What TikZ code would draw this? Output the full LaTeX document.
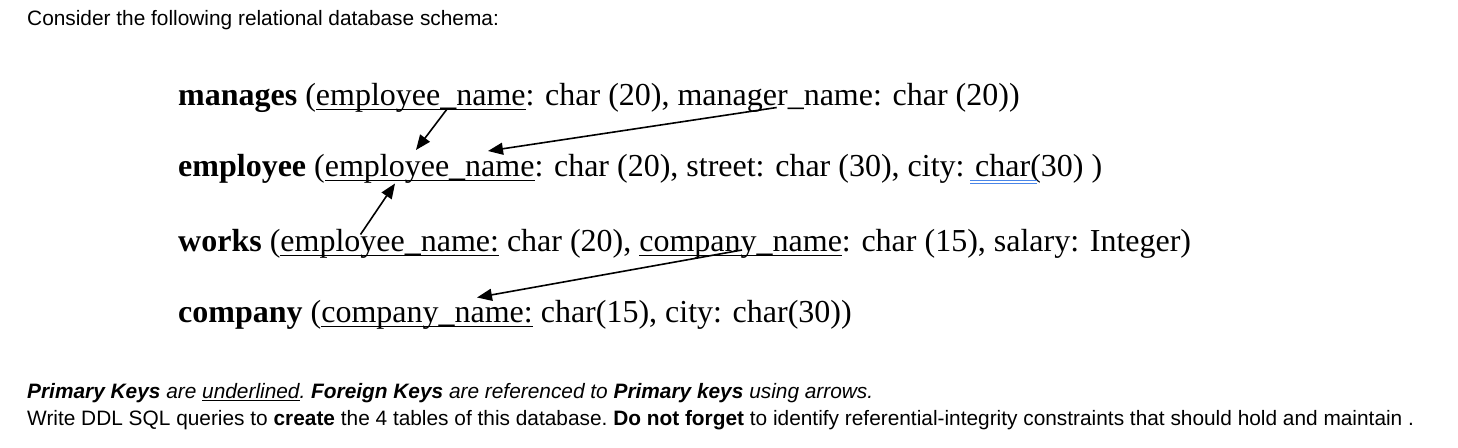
\documentclass[tikz,border=0pt]{standalone}
\usepackage{fontspec}
\setmainfont{Liberation Serif}
\newfontfamily\arial{Liberation Sans}
\usetikzlibrary{arrows.meta}
\newsavebox\ulbox
\newcommand\ulk[1]{\sbox\ulbox{#1}\rlap{\rule[-5pt]{\wd\ulbox}{1.3pt}}\usebox\ulbox}
\newcommand\ulr[1]{\sbox\ulbox{#1}\rlap{\rule[-3pt]{\wd\ulbox}{1.3pt}}\usebox\ulbox}
\definecolor{spell}{HTML}{4A86E8}
\tikzset{
  sch/.style={anchor=base west, inner sep=0pt, font=\fontsize{32}{38}\selectfont},
  sans/.style={anchor=base west, inner sep=0pt, font=\arial\fontsize{20.85}{24}\selectfont\frenchspacing},
  fk/.style={line width=1.6pt, -{Triangle[length=15pt,width=12pt]}},
  spellmark/.style={draw=spell, line width=1pt}
}
\begin{document}
\begin{tikzpicture}[x=1pt,y=-1pt]
\useasboundingbox (0,0) rectangle (1458,447);
\fill[white] (0,0) rectangle (1458,447);
\node[sans] (intro) at (27,25) {Consider the following relational database schema:};
\node[sch] (manages) at (178,105) {\textbf{manages} (\ulk{employee\_name}: char (20), manager\_name: char (20))};
\node[sch] (employee) at (178,176) {\textbf{employee} (\ulk{employee\_name}: char (20), street: char (30), city: char(30) )};
\node[sch] (works) at (178,251) {\textbf{works} (\ulk{employee\_name:} char (20), \ulk{company\_name}: char (15), salary: Integer)};
\node[sch] (company) at (178,322) {\textbf{company} (\ulk{company\_name:} char(15), city: char(30))};
\node[sans] (pk) at (27,398) {\itshape\textbf{Primary Keys} are \ulr{underlined}. \textbf{Foreign Keys} are referenced to \textbf{Primary keys} using arrows.};
\node[sans] (task) at (27,425) {Write DDL SQL queries to \textbf{create} the 4 tables of this database. \textbf{Do not forget} to identify referential-integrity constraints that should hold and maintain .};
\coordinate (m-en) at (446.7,109.5);
\coordinate (e-en-a) at (416,150);
\coordinate (m-mn) at (776.7,107.5);
\coordinate (e-en-b) at (488,151);
\coordinate (w-en) at (360.5,234.5);
\coordinate (e-en-c) at (395,183.5);
\coordinate (w-cn) at (742,250);
\coordinate (c-cn) at (477,297.5);
\draw[fk] (m-en) -- (e-en-a);
\draw[fk] (m-mn) -- (e-en-b);
\draw[fk] (w-en) -- (e-en-c);
\draw[fk] (w-cn) -- (c-cn);
\draw[spellmark] (970,180.5) -- (1037,180.5);
\draw[spellmark] (970,183) -- (1037,183);
\end{tikzpicture}
\end{document}
